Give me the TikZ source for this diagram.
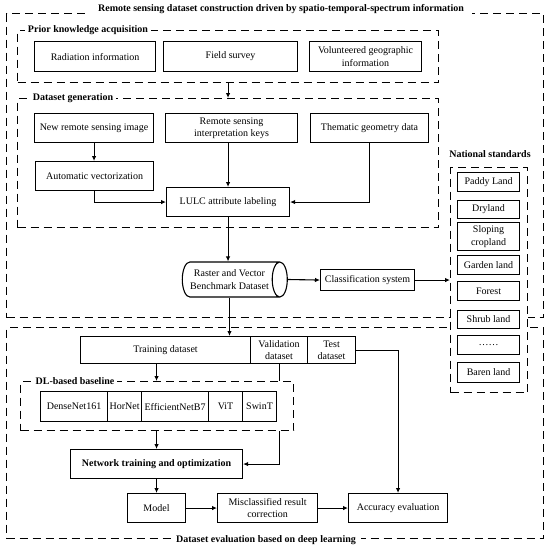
\documentclass[tikz,border=0pt]{standalone}
\usepackage{fontspec}
\setmainfont{Liberation Serif}
\usetikzlibrary{shapes.geometric,arrows.meta,positioning}

\tikzset{
  blk/.style={draw,line width=1.1pt,align=center,inner sep=1pt,anchor=north west,
    font=\fontsize{10}{12.5}\selectfont},
  grp/.style={draw,line width=1.1pt,dash pattern=on 8pt off 5pt,anchor=north west,inner sep=0pt},
  grptitle/.style={fill=white,inner xsep=3pt,inner ysep=1pt,font=\fontsize{10}{12}\selectfont\bfseries},
  arr/.style={line width=1.1pt,-{Latex[length=5pt,width=4.5pt]}},
  ln/.style={line width=1.1pt},
}

\begin{document}
\begin{tikzpicture}[x=1pt,y=-1pt]
\useasboundingbox (0,0) rectangle (550,547);

% dashed groups
\node[grp,minimum width=537pt,minimum height=304pt] (build) at (6,13) {};
\node[grp,minimum width=537pt,minimum height=211pt] (evalgrp) at (6,327) {};
\node[grp,minimum width=421pt,minimum height=52pt] (prior) at (17,30) {};
\node[grp,minimum width=421pt,minimum height=129pt] (datagen) at (17,98) {};
\node[grp,minimum width=273pt,minimum height=49pt] (dl) at (20,381) {};

\node[grptitle,inner xsep=8pt] (tbuild) at (281,9.5) {Remote sensing dataset construction driven by spatio-temporal-spectrum information};
\node[grptitle] (tprior) at (88,30) {Prior knowledge acquisition};
\node[grptitle] (tdatagen) at (73,98) {Dataset generation};
\node[grptitle] (tdl) at (75,381) {DL-based baseline};
\node[grptitle,inner xsep=5pt] (teval) at (266,540) {Dataset evaluation based on deep learning};

% prior knowledge
\node[blk,minimum width=121pt,minimum height=30pt] (rad) at (34,41) {Radiation information};
\node[blk,minimum width=134pt,minimum height=30pt] (field) at (163,41) {Field survey};
\node[blk,minimum width=112pt,minimum height=30pt] (vgi) at (309,41) {Volunteered geographic\\information};

% dataset generation
\node[blk,minimum width=119pt,minimum height=29pt] (newimg) at (34,113) {New remote sensing image};
\node[blk,minimum width=132pt,minimum height=29pt] (keys) at (165,113) {Remote sensing\\interpretation keys};
\node[blk,minimum width=118pt,minimum height=29pt] (them) at (310,113) {Thematic geometry data};
\node[blk,minimum width=118pt,minimum height=29pt] (auto) at (35,161) {Automatic vectorization};
\node[blk,minimum width=123pt,minimum height=29pt] (lulc) at (166,187) {LULC attribute labeling};

\node[draw,cylinder,shape aspect=0.7,line width=1.1pt,minimum height=105pt,minimum width=35pt,
  align=center,inner sep=1pt,font=\fontsize{10}{12.5}\selectfont] (db) at (229.5,279.5) {Raster and Vector\\Benchmark Dataset};
\node[blk,minimum width=94pt,minimum height=21pt] (cls) at (320,269) {Classification system};

% national standards
\node[grp,fill=white,minimum width=77pt,minimum height=225pt] (nat) at (450,167) {};
\node[font=\fontsize{10}{12}\selectfont\bfseries] (tnat) at (490,154) {National standards};
\node[blk,minimum width=62pt,minimum height=19pt] (paddy) at (457,172) {Paddy Land};
\node[blk,minimum width=62pt,minimum height=18pt] (dry) at (457,200) {Dryland};
\node[blk,minimum width=62pt,minimum height=28pt] (slope) at (457,222) {Sloping\\cropland};
\node[blk,minimum width=62pt,minimum height=19pt] (garden) at (457,255) {Garden land};
\node[blk,minimum width=62pt,minimum height=19pt] (forest) at (457,281) {Forest};
\node[blk,minimum width=62pt,minimum height=18pt] (shrub) at (457,310) {Shrub land};
\node[blk,minimum width=62pt,minimum height=19pt] (more) at (457,335) {……};
\node[blk,minimum width=62pt,minimum height=20pt] (baren) at (457,362) {Baren land};

% evaluation
\node[blk,minimum width=170pt,minimum height=27pt] (train) at (80,336) {Training dataset};
\node[blk,minimum width=57pt,minimum height=27pt] (valid) at (250,336) {Validation\\dataset};
\node[blk,minimum width=48pt,minimum height=27pt] (test) at (307,336) {Test\\dataset};

\node[blk,minimum width=67pt,minimum height=30pt] (dense) at (40,391) {DenseNet161};
\node[blk,minimum width=34pt,minimum height=30pt,inner sep=0pt] (hor) at (107,391) {HorNet};
\node[blk,minimum width=67pt,minimum height=30pt,inner sep=0pt] (eff) at (141,391) {EfficientNetB7};
\node[blk,minimum width=34pt,minimum height=30pt] (vit) at (208,391) {ViT};
\node[blk,minimum width=34pt,minimum height=30pt,inner sep=0pt] (swin) at (242,391) {SwinT};

\node[blk,minimum width=172pt,minimum height=29pt,font=\fontsize{10}{12.5}\selectfont\bfseries] (net) at (70,449) {Network training and optimization};
\node[blk,minimum width=58pt,minimum height=29pt] (model) at (127,493) {Model};
\node[blk,minimum width=100pt,minimum height=29pt] (mis) at (217,493) {Misclassified result\\correction};
\node[blk,minimum width=99pt,minimum height=29pt] (acc) at (348,493) {Accuracy evaluation};

% connectors
\draw[arr] (prior.south -| lulc) -- (datagen.north -| lulc);
\draw[arr] (newimg.south) -- (newimg.south |- auto.north);
\draw[arr] (keys.south -| lulc) -- (lulc.north);
\draw[arr] (auto.south) |- (lulc.west);
\draw[arr] (them.south) |- (lulc.east);
\draw[arr] (lulc.south) -- (lulc.south |- db.north);
\draw[arr] (db.east) -- (cls.west);
\draw[arr] (cls.east) -- (cls.east -| nat.west);
\draw[arr] (db.south) -- (db.south |- train.north);
\draw[arr] (train.south -| net) -- (dl.north -| net);
\draw[ln] (valid.south) -- (valid.south |- dl.north);
\draw[arr] (valid.south |- dl.south) |- (net.east);
\draw[arr] (dl.south -| net) -- (net.north);
\draw[arr] (net.south) -- (net.south |- model.north);
\draw[arr] (model.east) -- (mis.west);
\draw[arr] (mis.east) -- (acc.west);
\draw[arr] (test.east) -| (acc.north);

\end{tikzpicture}
\end{document}
